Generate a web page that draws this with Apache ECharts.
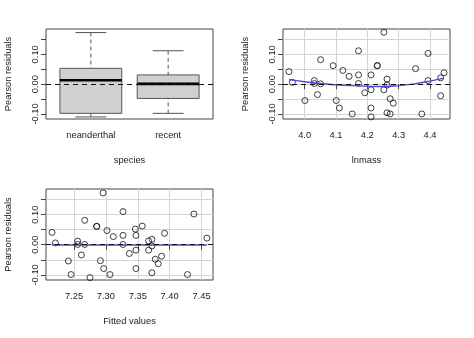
<!DOCTYPE html>
<html><head><meta charset="utf-8">
<script src="https://cdn.jsdelivr.net/npm/echarts@6/dist/echarts.min.js"></script>
<style>html,body{margin:0;padding:0;background:#fff}#c{width:474px;height:338px}</style>
</head><body><div id="c"></div>
<script>
// ---- data ----
const speciesNames = ['neanderthal', 'recent'];
// [lower whisker, Q1, median, Q3, upper whisker]
const boxNeanderthal = [-0.110, -0.098, 0.013, 0.053, 0.173];
const boxRecent = [-0.098, -0.048, 0.001, 0.031, 0.112];

const lnmass = [3.950,3.961,4.001,4.031,4.031,4.041,4.051,4.051,4.091,4.101,4.111,4.122,4.142,4.152,4.172,4.172,4.172,4.192,4.212,4.212,4.212,4.212,4.232,4.232,4.253,4.253,4.263,4.263,4.263,4.273,4.273,4.283,4.354,4.374,4.394,4.394,4.434,4.434,4.445];
const residLnmass = [0.042,0.006,-0.055,0.012,0.002,-0.035,0.082,0.001,0.062,-0.055,-0.080,0.046,0.026,-0.100,0.112,0.031,0.002,-0.029,0.031,-0.019,-0.080,-0.110,0.062,0.062,0.174,-0.019,0.017,-0.003,-0.096,-0.049,-0.100,-0.064,0.052,-0.100,0.103,0.012,-0.039,0.021,0.038];

const smoothLnmassX = [3.950,4.00,4.05,4.10,4.15,4.20,4.25,4.30,4.35,4.40,4.445];
const smoothLnmassY = [0.015,0.008,0.002,-0.002,-0.005,-0.007,-0.008,-0.005,0.001,0.010,0.020];

const fittedVals = [7.2155,7.2208,7.2411,7.2453,7.2557,7.2557,7.2615,7.2667,7.2667,7.2750,7.2855,7.2855,7.2913,7.2955,7.2965,7.3017,7.3064,7.3116,7.3268,7.3268,7.3268,7.3367,7.3461,7.3471,7.3471,7.3471,7.3570,7.3670,7.3670,7.3722,7.3722,7.3722,7.3774,7.3821,7.3873,7.3920,7.4280,7.4380,7.4584];
const residFitted = [0.041,0.006,-0.054,-0.099,0.012,0.001,-0.034,0.081,0.001,-0.109,0.061,0.061,-0.053,0.172,-0.079,0.047,-0.099,0.027,0.110,0.031,0.001,-0.029,0.052,0.031,-0.018,-0.079,0.062,0.013,-0.018,0.018,-0.004,-0.093,-0.048,-0.063,-0.038,0.038,-0.099,0.102,0.022];

const smoothFittedX = [7.2155,7.30,7.38,7.4584];
const smoothFittedY = [-0.001,-0.001,-0.001,-0.001];

const yTicks = [-0.10,-0.05,0.00,0.05,0.10,0.15];
const yTickLabels = [-0.10,0.00,0.10];
const lnmassTicks = [4.0,4.1,4.2,4.3,4.4];
const fittedTicks = [7.25,7.30,7.35,7.40,7.45];

// ---- styles ----
const FONT = 'Liberation Sans, Arial, sans-serif';
const FS = 9.3;
const TXT = '#1a1a1a';
const FRAME = '#444';

const zip = (a, b) => a.map((v, i) => [v, b[i]]);

function yAxisCfg(gridIndex, grid) {
  return {
    type: 'value', gridIndex, min: -0.117, max: 0.185,
    name: 'Pearson residuals', nameLocation: 'middle', nameGap: 33,
    nameTextStyle: { fontFamily: FONT, fontSize: FS, color: TXT },
    axisLine: { show: false },
    axisTick: { show: true, length: 5, customValues: yTicks, lineStyle: { color: FRAME } },
    axisLabel: { customValues: yTickLabels, rotate: 90, margin: 6, fontFamily: FONT, fontSize: FS, color: TXT,
      formatter: v => v.toFixed(2) },
    splitLine: { show: grid, lineStyle: { color: '#d4d4d4', width: 1 } }
  };
}

const zeroLine = {
  silent: true, symbol: 'none', label: { show: false },
  lineStyle: { color: '#111', type: [5, 4], width: 1 },
  data: [{ yAxis: 0 }]
};

const option = {
  animation: false,
  backgroundColor: '#fff',
  grid: [
    { left: 46, top: 29, width: 167, height: 90, show: true, borderColor: FRAME, borderWidth: 1, backgroundColor: 'transparent' },
    { left: 283, top: 29, width: 167, height: 90, show: true, borderColor: FRAME, borderWidth: 1, backgroundColor: 'transparent' },
    { left: 46, top: 189, width: 167, height: 91, show: true, borderColor: FRAME, borderWidth: 1, backgroundColor: 'transparent' }
  ],
  xAxis: [
    { type: 'value', gridIndex: 0, min: 0.42, max: 2.58,
      name: 'species', nameLocation: 'middle', nameGap: 37,
      nameTextStyle: { fontFamily: FONT, fontSize: FS, color: TXT },
      axisLine: { show: false },
      axisTick: { length: 5, customValues: [1, 2], lineStyle: { color: FRAME } },
      axisLabel: { customValues: [1, 2], margin: 12, fontFamily: FONT, fontSize: FS, color: TXT,
        formatter: v => speciesNames[Math.round(v) - 1] },
      splitLine: { show: false } },
    { type: 'value', gridIndex: 1, min: 3.931, max: 4.464,
      name: 'lnmass', nameLocation: 'middle', nameGap: 37,
      nameTextStyle: { fontFamily: FONT, fontSize: FS, color: TXT },
      axisLine: { show: false },
      axisTick: { length: 5, customValues: lnmassTicks, lineStyle: { color: FRAME } },
      axisLabel: { customValues: lnmassTicks, margin: 12, fontFamily: FONT, fontSize: FS, color: TXT,
        formatter: v => v.toFixed(1) },
      splitLine: { show: true, lineStyle: { color: '#d4d4d4', width: 1 } } },
    { type: 'value', gridIndex: 2, min: 7.206, max: 7.468,
      name: 'Fitted values', nameLocation: 'middle', nameGap: 37,
      nameTextStyle: { fontFamily: FONT, fontSize: FS, color: TXT },
      axisLine: { show: false },
      axisTick: { length: 5, customValues: fittedTicks, lineStyle: { color: FRAME } },
      axisLabel: { customValues: fittedTicks, margin: 12, fontFamily: FONT, fontSize: FS, color: TXT,
        formatter: v => v.toFixed(2) },
      splitLine: { show: true, lineStyle: { color: '#d4d4d4', width: 1 } } }
  ],
  yAxis: [yAxisCfg(0, false), yAxisCfg(1, true), yAxisCfg(2, true)],
  series: [
    {
      type: 'custom', xAxisIndex: 0, yAxisIndex: 0,
      data: [[1, ...boxNeanderthal], [2, ...boxRecent]],
      encode: { x: 0, y: [1, 2, 3, 4, 5] },
      renderItem: function (params, api) {
        const x = api.value(0);
        const lo = api.value(1), q1 = api.value(2), md = api.value(3), q3 = api.value(4), hi = api.value(5);
        const c = v => api.coord([x, v]);
        const a = api.coord([x - 0.4, q3]), b = api.coord([x + 0.4, q1]);
        const cl = v => api.coord([x - 0.2, v]), cr = v => api.coord([x + 0.2, v]);
        const ml = api.coord([x - 0.4, md]), mr = api.coord([x + 0.4, md]);
        const dash = { stroke: '#555', lineWidth: 1, lineDash: [4, 3], fill: null };
        const solid = { stroke: '#555', lineWidth: 1, fill: null };
        return { type: 'group', children: [
          { type: 'line', shape: { x1: c(hi)[0], y1: c(hi)[1], x2: c(q3)[0], y2: c(q3)[1] }, style: dash },
          { type: 'line', shape: { x1: c(lo)[0], y1: c(lo)[1], x2: c(q1)[0], y2: c(q1)[1] }, style: dash },
          { type: 'line', shape: { x1: cl(hi)[0], y1: cl(hi)[1], x2: cr(hi)[0], y2: cr(hi)[1] }, style: solid },
          { type: 'line', shape: { x1: cl(lo)[0], y1: cl(lo)[1], x2: cr(lo)[0], y2: cr(lo)[1] }, style: solid },
          { type: 'rect', shape: { x: a[0], y: a[1], width: b[0] - a[0], height: b[1] - a[1] },
            style: { fill: '#d0d0d0', stroke: '#555', lineWidth: 1 } },
          { type: 'line', shape: { x1: ml[0], y1: ml[1], x2: mr[0], y2: mr[1] }, style: { stroke: '#000', lineWidth: 2.6 } }
        ] };
      },
      markLine: zeroLine, z: 2
    },
    {
      type: 'scatter', xAxisIndex: 1, yAxisIndex: 1, data: zip(lnmass, residLnmass),
      symbol: 'circle', symbolSize: 6,
      itemStyle: { color: 'rgba(0,0,0,0)', borderColor: '#111', borderWidth: 1 },
      markLine: zeroLine, z: 3
    },
    {
      type: 'line', xAxisIndex: 1, yAxisIndex: 1, data: zip(smoothLnmassX, smoothLnmassY),
      smooth: true, showSymbol: false, lineStyle: { color: '#4b4bd8', width: 1.4 }, z: 4
    },
    {
      type: 'scatter', xAxisIndex: 2, yAxisIndex: 2, data: zip(fittedVals, residFitted),
      symbol: 'circle', symbolSize: 6,
      itemStyle: { color: 'rgba(0,0,0,0)', borderColor: '#111', borderWidth: 1 },
      markLine: zeroLine, z: 3
    },
    {
      type: 'line', xAxisIndex: 2, yAxisIndex: 2, data: zip(smoothFittedX, smoothFittedY),
      smooth: true, showSymbol: false, lineStyle: { color: '#4b4bd8', width: 1.4 }, z: 4
    }
  ]
};
const chart = echarts.init(document.getElementById('c'), null, { renderer: 'canvas' });
chart.setOption(option);
</script>
</body></html>
